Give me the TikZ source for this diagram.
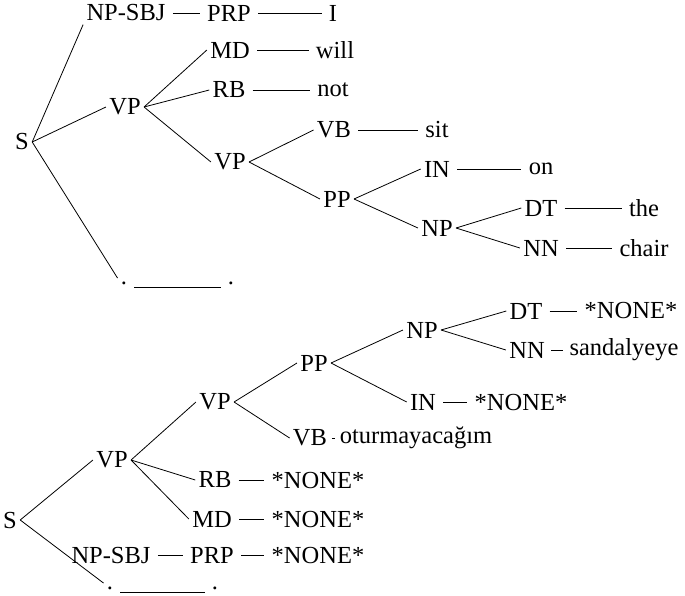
\documentclass[tikz,border=0pt]{standalone}
\usepackage{fontspec}
\setmainfont{Liberation Serif}
\begin{document}
\begin{tikzpicture}[x=1pt,y=-1pt,
  t/.style={inner sep=3pt,font=\fontsize{24.5}{27}\selectfont},
  h/.style={shorten <=4pt,shorten >=4pt},
  e/.style={line width=0.8pt}]
\useasboundingbox (0,0) rectangle (685,595);
\begin{scope}[every node/.style={t},every path/.style={e}]
% top tree
\node (s1) at (22,142) {S};
\node (np1) at (126,13) {NP-SBJ};
\node (prp1) at (229,13) {PRP};
\node (i1) at (333,13) {I};
\node (vp1) at (125,107) {VP};
\node (md1) at (230,50) {MD};
\node (will) at (335,50) {will};
\node (rb1) at (229,90) {RB};
\node (not) at (333,90) {not};
\node (vp2) at (230,162) {VP};
\node (vb1) at (334,130) {VB};
\node (sit) at (437,130) {sit};
\node (pp1) at (337,199) {PP};
\node (in1) at (437,169) {IN};
\node (on) at (541,169) {on};
\node (np2) at (437,228) {NP};
\node (dt1) at (541,208) {DT};
\node (the) at (644,208) {the};
\node (nn1) at (541,248) {NN};
\node (chair) at (644,248) {chair};
\node[anchor=base] (d1) at (124,284) {.};
\node[anchor=base] (d2) at (231,284) {.};
\draw (s1.east) -- (np1.south west);
\draw (s1.east) -- (vp1.west);
\draw (s1.east) -- (d1.north west);
\draw[h] (np1) -- (prp1); \draw[h] (prp1) -- (i1);
\draw (vp1.east) -- (md1.west); \draw (vp1.east) -- (rb1.west); \draw (vp1.east) -- (vp2.west);
\draw[h] (md1) -- (will); \draw[h] (rb1) -- (not);
\draw (vp2.east) -- (vb1.west); \draw (vp2.east) -- (pp1.west);
\draw[h] (vb1) -- (sit);
\draw (pp1.east) -- (in1.west); \draw (pp1.east) -- (np2.west);
\draw[h] (in1) -- (on);
\draw (np2.east) -- (dt1.west); \draw (np2.east) -- (nn1.west);
\draw[h] (dt1) -- (the); \draw[h] (nn1) -- (chair);
\draw[h] ([yshift=-3pt]d1.base east) -- ([yshift=-3pt]d2.base west);
% bottom tree
\node (s2) at (10,520) {S};
\node (vp3) at (112,460) {VP};
\node (vp4) at (215,402) {VP};
\node (pp2) at (314,363) {PP};
\node (np3) at (422,330) {NP};
\node (dt2) at (526,311) {DT};
\node (n1) at (631,311) {*NONE*};
\node (nn2) at (527,350) {NN};
\node (sand) at (624,350) {sandalyeye};
\node (in2) at (423,402) {IN};
\node (n2) at (521,402) {*NONE*};
\node (vb2) at (310,438) {VB};
\node (otur) at (416,438) {oturmayacağım};
\node (rb2) at (215,480) {RB};
\node (n3) at (318,480) {*NONE*};
\node (md2) at (212,519) {MD};
\node (n4) at (318,519) {*NONE*};
\node (np4) at (111,555) {NP-SBJ};
\node (prp2) at (212,555) {PRP};
\node (n5) at (318,555) {*NONE*};
\node[anchor=base] (d3) at (110,589) {.};
\node[anchor=base] (d4) at (215,589) {.};
\draw (s2.east) -- (vp3.west);
\draw (s2.east) -- (d3.north west);
\draw (vp3.east) -- (vp4.west); \draw (vp3.east) -- (rb2.west); \draw (vp3.east) -- (md2.west);
\draw (vp4.east) -- (pp2.west); \draw (vp4.east) -- (vb2.west);
\draw (pp2.east) -- (np3.west); \draw (pp2.east) -- (in2.west);
\draw (np3.east) -- (dt2.west); \draw (np3.east) -- (nn2.west);
\draw[h] (dt2) -- (n1); \draw[shorten <=3pt,shorten >=3pt] (nn2) -- (sand);
\draw[h] (in2) -- (n2); \draw[shorten <=1.5pt,shorten >=1.5pt] (vb2) -- (otur);
\draw[h] (rb2) -- (n3); \draw[h] (md2) -- (n4);
\draw[h] (np4) -- (prp2); \draw[h] (prp2) -- (n5);
\draw[h] ([yshift=-3pt]d3.base east) -- ([yshift=-3pt]d4.base west);
\end{scope}
\end{tikzpicture}
\end{document}
